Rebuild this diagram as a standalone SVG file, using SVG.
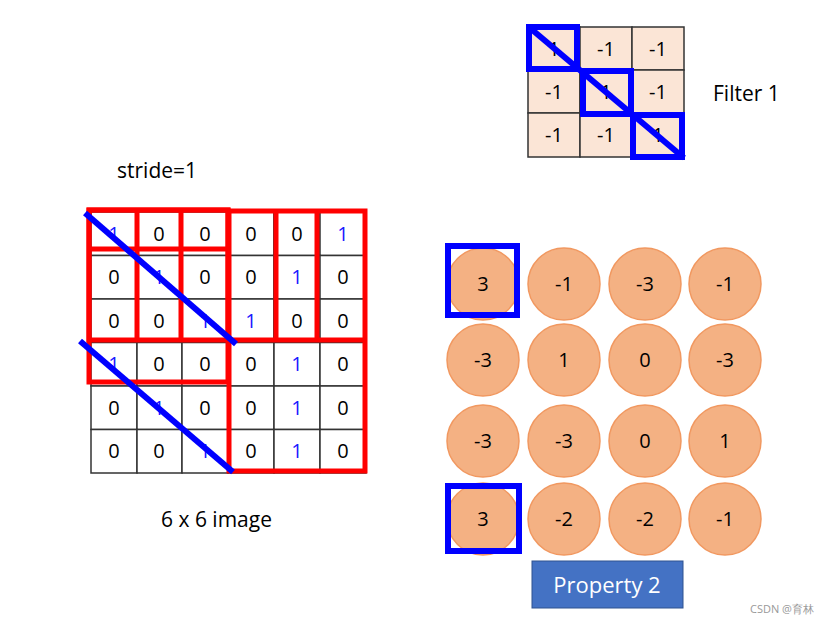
<svg xmlns="http://www.w3.org/2000/svg" width="834" height="622" viewBox="0 0 834 622">
<style>
text{font-family:"Open Sans","Noto Sans",sans-serif;}
.c{font-size:20px;text-anchor:middle;fill:#000}
.b{fill:#1a1aff}
.g{fill:#fff;stroke:#333;stroke-width:1.5}
.f{fill:#fbe5d6;stroke:#333;stroke-width:1.5}
.r{fill:none;stroke:#f00;stroke-width:5}
.bl{fill:none;stroke:#0000ff;stroke-width:6}
.ci{fill:#f4b183;stroke:#f19860;stroke-width:1.5}
</style>
<rect width="834" height="622" fill="#fff"/>
<g id="labels">
<text x="117" y="178" font-size="21">stride=1</text>
<text x="161" y="527" font-size="21">6 x 6 image</text>
<text x="713" y="101" font-size="21">Filter 1</text>
<text x="750" y="613" font-size="11" fill="#999" font-family="Noto Sans CJK SC,sans-serif">CSDN @育林</text>
</g>
<g id="image">
<g>
<rect class="g" x="91" y="212" width="46" height="43.5"/><rect class="g" x="137" y="212" width="45" height="43.5"/><rect class="g" x="182" y="212" width="46" height="43.5"/><rect class="g" x="228" y="212" width="46" height="43.5"/><rect class="g" x="274" y="212" width="46" height="43.5"/><rect class="g" x="320" y="212" width="46" height="43.5"/>
<rect class="g" x="91" y="255.5" width="46" height="43.5"/><rect class="g" x="137" y="255.5" width="45" height="43.5"/><rect class="g" x="182" y="255.5" width="46" height="43.5"/><rect class="g" x="228" y="255.5" width="46" height="43.5"/><rect class="g" x="274" y="255.5" width="46" height="43.5"/><rect class="g" x="320" y="255.5" width="46" height="43.5"/>
<rect class="g" x="91" y="299" width="46" height="43.5"/><rect class="g" x="137" y="299" width="45" height="43.5"/><rect class="g" x="182" y="299" width="46" height="43.5"/><rect class="g" x="228" y="299" width="46" height="43.5"/><rect class="g" x="274" y="299" width="46" height="43.5"/><rect class="g" x="320" y="299" width="46" height="43.5"/>
<rect class="g" x="91" y="342.5" width="46" height="43.5"/><rect class="g" x="137" y="342.5" width="45" height="43.5"/><rect class="g" x="182" y="342.5" width="46" height="43.5"/><rect class="g" x="228" y="342.5" width="46" height="43.5"/><rect class="g" x="274" y="342.5" width="46" height="43.5"/><rect class="g" x="320" y="342.5" width="46" height="43.5"/>
<rect class="g" x="91" y="386" width="46" height="43.5"/><rect class="g" x="137" y="386" width="45" height="43.5"/><rect class="g" x="182" y="386" width="46" height="43.5"/><rect class="g" x="228" y="386" width="46" height="43.5"/><rect class="g" x="274" y="386" width="46" height="43.5"/><rect class="g" x="320" y="386" width="46" height="43.5"/>
<rect class="g" x="91" y="429.5" width="46" height="43.5"/><rect class="g" x="137" y="429.5" width="45" height="43.5"/><rect class="g" x="182" y="429.5" width="46" height="43.5"/><rect class="g" x="228" y="429.5" width="46" height="43.5"/><rect class="g" x="274" y="429.5" width="46" height="43.5"/><rect class="g" x="320" y="429.5" width="46" height="43.5"/>
</g>
<g class="c">
<text x="114" y="241" class="b">1</text><text x="159" y="241">0</text><text x="205" y="241">0</text><text x="251" y="241">0</text><text x="297" y="241">0</text><text x="343" y="241" class="b">1</text>
<text x="114" y="284">0</text><text x="159" y="284" class="b">1</text><text x="205" y="284">0</text><text x="251" y="284">0</text><text x="297" y="284" class="b">1</text><text x="343" y="284">0</text>
<text x="114" y="328">0</text><text x="159" y="328">0</text><text x="205" y="328" class="b">1</text><text x="251" y="328" class="b">1</text><text x="297" y="328">0</text><text x="343" y="328">0</text>
<text x="114" y="371" class="b">1</text><text x="159" y="371">0</text><text x="205" y="371">0</text><text x="251" y="371">0</text><text x="297" y="371" class="b">1</text><text x="343" y="371">0</text>
<text x="114" y="415">0</text><text x="159" y="415" class="b">1</text><text x="205" y="415">0</text><text x="251" y="415">0</text><text x="297" y="415" class="b">1</text><text x="343" y="415">0</text>
<text x="114" y="458">0</text><text x="159" y="458">0</text><text x="205" y="458" class="b">1</text><text x="251" y="458">0</text><text x="297" y="458" class="b">1</text><text x="343" y="458">0</text>
</g>
<g id="windows">
<rect class="r" x="89" y="210" width="139" height="172"/>
<rect class="r" x="89" y="210" width="139" height="130"/>
<line class="r" x1="89" y1="249" x2="228" y2="249"/>
<line class="r" x1="137" y1="210" x2="137" y2="340"/>
<line class="r" x1="181" y1="210" x2="181" y2="340"/>
<rect class="r" x="229" y="211" width="136" height="260"/>
<line class="r" x1="229" y1="340" x2="365" y2="340"/>
<line class="r" x1="317" y1="211" x2="317" y2="340"/>
<line class="r" x1="276" y1="211" x2="276" y2="340"/>
</g>
<line class="bl" x1="85" y1="213" x2="236" y2="344"/>
<line class="bl" x1="80" y1="341" x2="233" y2="472"/>
</g>
<g id="filter">
<rect class="f" x="528" y="27" width="52" height="43"/><rect class="f" x="580" y="27" width="52" height="43"/><rect class="f" x="632" y="27" width="52" height="43"/>
<rect class="f" x="528" y="70" width="52" height="43"/><rect class="f" x="580" y="70" width="52" height="43"/><rect class="f" x="632" y="70" width="52" height="43"/>
<rect class="f" x="528" y="113" width="52" height="44"/><rect class="f" x="580" y="113" width="52" height="44"/><rect class="f" x="632" y="113" width="52" height="44"/>
<g class="c">
<text x="554" y="56">1</text><text x="606" y="56">-1</text><text x="658" y="56">-1</text>
<text x="554" y="99">-1</text><text x="606" y="99">1</text><text x="658" y="99">-1</text>
<text x="554" y="142">-1</text><text x="606" y="142">-1</text><text x="658" y="142">1</text>
</g>
<rect class="bl" x="529" y="27" width="48" height="42"/>
<rect class="bl" x="583" y="71" width="48" height="43"/>
<rect class="bl" x="633" y="115" width="49" height="42"/>
<line class="bl" x1="530" y1="28" x2="684" y2="158"/>
</g>
<g id="featuremap">
<g>
<circle class="ci" cx="483" cy="284" r="36"/><circle class="ci" cx="564" cy="284" r="36"/><circle class="ci" cx="645" cy="284" r="36"/><circle class="ci" cx="725" cy="284" r="36"/>
<circle class="ci" cx="483" cy="360" r="36"/><circle class="ci" cx="564" cy="360" r="36"/><circle class="ci" cx="645" cy="360" r="36"/><circle class="ci" cx="725" cy="360" r="36"/>
<circle class="ci" cx="483" cy="441" r="36"/><circle class="ci" cx="564" cy="441" r="36"/><circle class="ci" cx="645" cy="441" r="36"/><circle class="ci" cx="725" cy="441" r="36"/>
<circle class="ci" cx="483" cy="519" r="36"/><circle class="ci" cx="564" cy="519" r="36"/><circle class="ci" cx="645" cy="519" r="36"/><circle class="ci" cx="725" cy="519" r="36"/>
</g>
<g class="c">
<text x="483" y="291">3</text><text x="564" y="291">-1</text><text x="645" y="291">-3</text><text x="725" y="291">-1</text>
<text x="483" y="367">-3</text><text x="564" y="367">1</text><text x="645" y="367">0</text><text x="725" y="367">-3</text>
<text x="483" y="448">-3</text><text x="564" y="448">-3</text><text x="645" y="448">0</text><text x="725" y="448">1</text>
<text x="483" y="526">3</text><text x="564" y="526">-2</text><text x="645" y="526">-2</text><text x="725" y="526">-1</text>
</g>
<rect class="bl" x="448" y="246" width="69" height="69"/>
<rect class="bl" x="448" y="486" width="71" height="65"/>
</g>
<g id="property2">
<rect x="532" y="561" width="151" height="47" fill="#4472c4" stroke="#2f528f"/>
<text x="607" y="593" font-size="22" fill="#fff" text-anchor="middle">Property 2</text>
</g>
</svg>
